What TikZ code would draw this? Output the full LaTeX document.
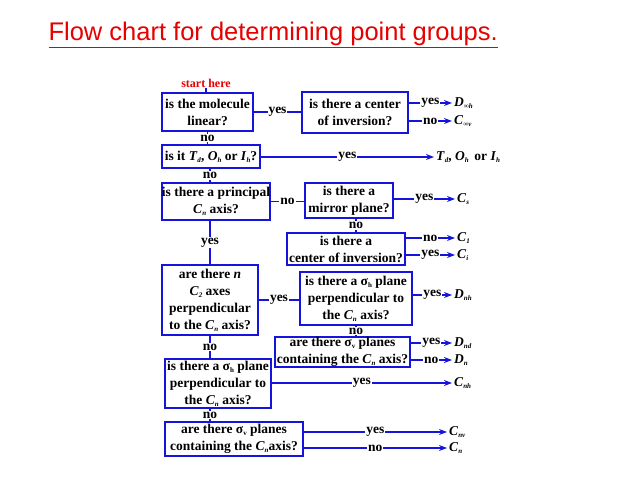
\documentclass[tikz,border=0pt]{standalone}
\usepackage{fontspec}
\setmainfont{Liberation Serif}
\newfontfamily\titlefont{Liberation Sans}
\usetikzlibrary{arrows.meta}
\definecolor{lb}{RGB}{20,20,220}
\definecolor{tr}{RGB}{230,0,0}
\newcommand{\psub}[2]{\textit{#1}\raisebox{-0.35ex}{\scriptsize\textit{#2}}}
\newcommand{\bfs}{\bfseries\fontsize{13.5}{17}\selectfont}
\tikzset{
  box/.style={draw=lb,line width=1.4pt,align=center,inner sep=0pt,font=\bfs},
  lab/.style={fill=white,inner sep=1pt,font=\bfs},
  res/.style={anchor=west,inner sep=2pt,font=\bfs},
  ln/.style={draw=lb,line width=1.4pt},
  arr/.style={ln,-{Stealth[length=8pt,width=6pt]}}
}
\begin{document}
\begin{tikzpicture}[x=1pt,y=-1pt]
\useasboundingbox (0,0) rectangle (638,478);
\node[anchor=west,text=tr,font=\titlefont\fontsize{25.5}{30}\selectfont] (title) at (45,35) {\underline{Flow chart for determining point groups.}};
\node[box,minimum width=91pt,minimum height=38pt] (b1) at (207.5,112) {is the molecule\\linear?};
\node[box,minimum width=106pt,minimum height=41pt] (b2) at (355,112.5) {is there a center\\of inversion?};
\node[box,minimum width=98pt,minimum height=23pt] (b3) at (211,156.5) {is it \psub{T}{d}, \psub{O}{h} or \psub{I}{h}?};
\node[box,minimum width=108pt,minimum height=37pt] (b4) at (216,201.5) {is there a principal\\\psub{C}{n} axis?};
\node[box,minimum width=88pt,minimum height=35pt] (b5) at (349,200.5) {is there a\\mirror plane?};
\node[box,minimum width=118pt,minimum height=32pt] (b6) at (346,249) {is there a\\center of inversion?};
\node[box,minimum width=96pt,minimum height=70pt] (b7) at (210,300) {are there \textit{n}\\\psub{C}{2} axes\\perpendicular\\to the \psub{C}{n} axis?};
\node[box,minimum width=112pt,minimum height=53pt] (b8) at (356,298.5) {is there a σ\raisebox{-0.35ex}{\scriptsize h} plane\\perpendicular to\\the \psub{C}{n} axis?};
\node[box,minimum width=135pt,minimum height=30pt] (b9) at (342.5,352) {are there σ\raisebox{-0.35ex}{\scriptsize v} planes\\containing the \psub{C}{n} axis?};
\node[box,minimum width=106pt,minimum height=49pt] (b10) at (218,383.5) {is there a σ\raisebox{-0.35ex}{\scriptsize h} plane\\perpendicular to\\the \psub{C}{n} axis?};
\node[box,minimum width=138pt,minimum height=34pt] (b11) at (234,439) {are there σ\raisebox{-0.35ex}{\scriptsize v} planes\\containing the \psub{C}{n}axis?};
\node[text=tr,font=\bfseries\fontsize{12}{14}\selectfont,inner sep=1pt] (start) at (206,83) {start here};
% results
\node[res] (r1) at (452,103) {\psub{D}{∞h}};
\node[res] (r2) at (452,121) {\psub{C}{∞v}};
\node[res] (r3) at (434,157) {\psub{T}{d}, \psub{O}{h}\, or \psub{I}{h}};
\node[res] (r4) at (455,199) {\psub{C}{s}};
\node[res] (r5) at (455,238) {\psub{C}{1}};
\node[res] (r6) at (455,255) {\psub{C}{i}};
\node[res] (r7) at (452,295) {\psub{D}{nh}};
\node[res] (r8) at (452,343) {\psub{D}{nd}};
\node[res] (r9) at (452,360) {\psub{D}{n}};
\node[res] (r10) at (452,383) {\psub{C}{nh}};
\node[res] (r11) at (447,432) {\psub{C}{nv}};
\node[res] (r12) at (447,448) {\psub{C}{n}};
% connectors
\draw[ln] (start.south) -- (start.south |- b1.north);
\draw[ln] (b1.east) -- node[lab]{yes} (b1.east -| b2.west);
\draw[ln] (b1.south) -- node[lab]{no} (b1.south |- b3.north);
\draw[ln] (b7.north |- b3.south) -- node[lab]{no} (b7.north |- b4.north);
\draw[ln] (b4.east) -- node[lab]{no} (b4.east -| b5.west);
\draw[ln] (b7.north |- b4.south) -- node[lab]{yes} (b7.north);
\draw[ln] (b8.south |- b5.south) -- node[lab]{no} (b8.south |- b6.north);
\draw[ln] (b7.east) -- node[lab]{yes} (b7.east -| b8.west);
\draw[ln] (b8.south) -- node[lab]{no} (b8.south |- b9.north);
\draw[ln] (b7.south) -- node[lab]{no} (b7.south |- b10.north);
\draw[ln] (b7.south |- b10.south) -- node[lab]{no} (b7.south |- b11.north);
\draw[arr] (b2.east |- r1.west) -- node[lab]{yes} (r1.west);
\draw[arr] (b2.east |- r2.west) -- node[lab]{no} (r2.west);
\draw[arr] (b3.east |- r3.west) -- node[lab]{yes} (r3.west);
\draw[arr] (b5.east |- r4.west) -- node[lab]{yes} (r4.west);
\draw[arr] (b6.east |- r5.west) -- node[lab]{no} (r5.west);
\draw[arr] (b6.east |- r6.west) -- node[lab]{yes} (r6.west);
\draw[arr] (b8.east |- r7.west) -- node[lab]{yes} (r7.west);
\draw[arr] (b9.east |- r8.west) -- node[lab]{yes} (r8.west);
\draw[arr] (b9.east |- r9.west) -- node[lab]{no} (r9.west);
\draw[arr] (b10.east |- r10.west) -- node[lab]{yes} (r10.west);
\draw[arr] (b11.east |- r11.west) -- node[lab]{yes} (r11.west);
\draw[arr] (b11.east |- r12.west) -- node[lab]{no} (r12.west);
\end{tikzpicture}
\end{document}
